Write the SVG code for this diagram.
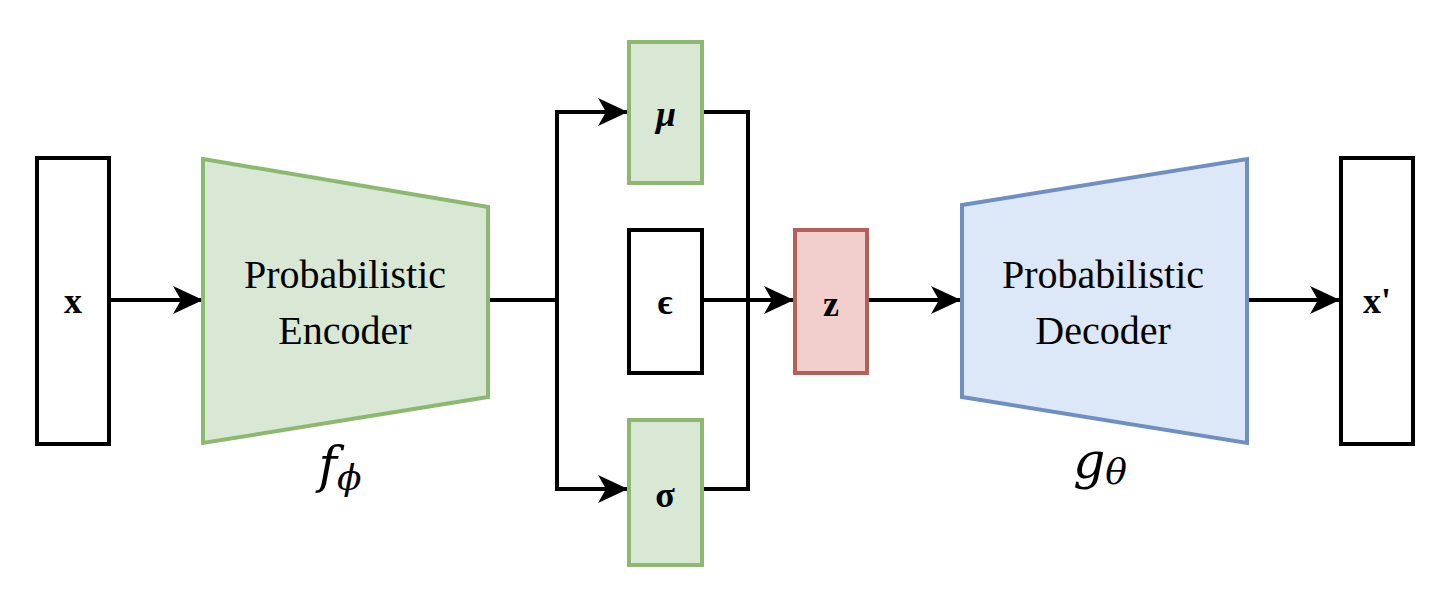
<svg xmlns="http://www.w3.org/2000/svg" width="1440" height="593" viewBox="0 0 1440 593">
<style>
.t{font-family:"Liberation Serif",serif;font-size:40px;fill:#000;text-anchor:middle}
.b{font-family:"Liberation Serif",serif;font-size:36px;font-weight:bold;fill:#000;text-anchor:middle}
.c{fill:none;stroke:#000;stroke-width:4}
.m{font-family:"DejaVu Serif",serif;font-style:italic;font-size:50px;text-anchor:middle}
</style>
<defs>
<marker id="ar" markerWidth="32" markerHeight="32" refX="30" refY="16" orient="auto" markerUnits="userSpaceOnUse"><path d="M0,2L30,16L0,30L8,16z" fill="#000"/></marker></defs>
<rect width="1440" height="593" fill="#fff"/>
<g id="connectors" class="c">
<path d="M110,300H203" marker-end="url(#ar)"/>
<path d="M488,300H557M557,300V112H628" marker-end="url(#ar)"/>
<path d="M557,300V489H628" marker-end="url(#ar)"/>
<path d="M703,112H748V489H703"/>
<path d="M703,300H794" marker-end="url(#ar)"/>
<path d="M868,300H961" marker-end="url(#ar)"/>
<path d="M1247,300H1340" marker-end="url(#ar)"/>
</g>
<g id="x"><rect x="37" y="158" width="72" height="286" fill="#fff" stroke="#000" stroke-width="4"/><text class="b" x="73" y="313">x</text></g>
<g id="encoder"><path d="M203,159L488,207V397L203,443z" fill="#d9e8d5" stroke="#8cb86f" stroke-width="4"/><text class="t" x="345" y="288">Probabilistic</text><text class="t" x="345" y="344">Encoder</text></g>
<g id="mu"><rect x="629" y="42" width="73" height="141" fill="#d9e8d5" stroke="#8cb86f" stroke-width="4"/><text class="b" x="666" y="126" font-style="italic">μ</text></g>
<g id="eps"><rect x="629" y="230" width="73" height="143" fill="#fff" stroke="#000" stroke-width="4"/><text class="b" x="665" y="314">ϵ</text></g>
<g id="sigma"><rect x="629" y="420" width="73" height="145" fill="#d9e8d5" stroke="#8cb86f" stroke-width="4"/><text class="b" x="665" y="507">σ</text></g>
<g id="z"><rect x="795" y="230" width="72" height="143" fill="#f2cfcd" stroke="#b35f5a" stroke-width="4"/><text class="b" x="831" y="316">z</text></g>
<g id="decoder"><path d="M962,205L1247,159V443L962,397z" fill="#dce7f7" stroke="#6f8fc0" stroke-width="4"/><text class="t" x="1103" y="288">Probabilistic</text><text class="t" x="1103" y="344">Decoder</text></g>
<g id="xp"><rect x="1341" y="158" width="72" height="286" fill="#fff" stroke="#000" stroke-width="4"/><text class="b" x="1377" y="313">x'</text></g>
<g id="f"><text class="m" x="340" y="482">f<tspan font-size="36" dy="8">ϕ</tspan></text></g>
<g id="g"><text class="m" x="1100" y="478">g<tspan font-size="36" dy="6">θ</tspan></text></g>
</svg>
